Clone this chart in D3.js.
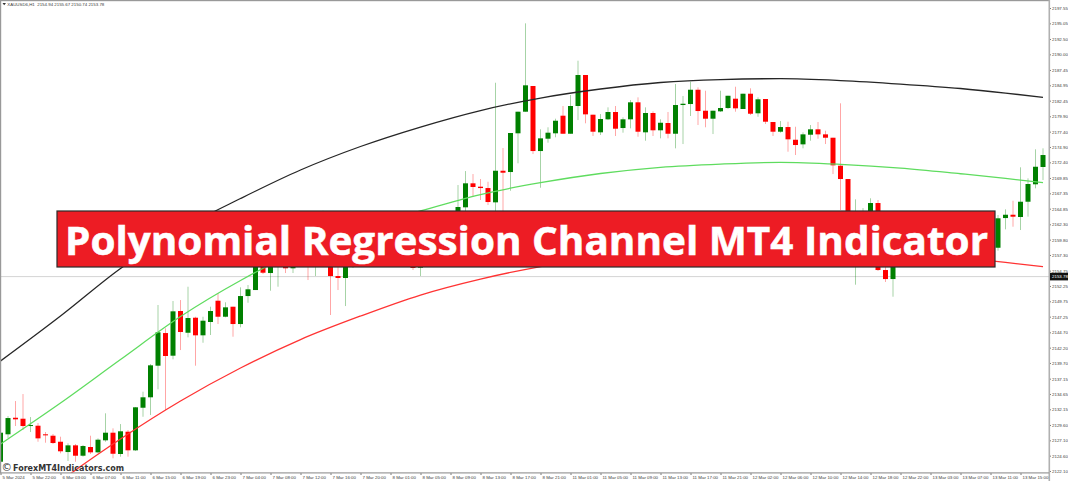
<!DOCTYPE html>
<html>
<head>
<meta charset="utf-8">
<title>Polynomial Regression Channel MT4 Indicator</title>
<script src="https://cdn.jsdelivr.net/npm/d3@7"></script>
<style>
    html, body { margin: 0; padding: 0; background: #fff; overflow: hidden; }
    svg { display: block; }
    .tiny text { font-family: "Liberation Sans", sans-serif; font-size: 4.4px; fill: #3c3c3c; }
</style>
</head>
<body>
<svg id="chart" width="1068" height="481"></svg>
<script>
const opens = [
    2123.61, 2128.08, 2130.78, 2130.62, 2129.43, 2129.48, 2128.08, 2127.85, 2126.87, 2125.19,
    2126.28, 2124.59, 2126.01, 2125.14, 2127.10, 2128.34, 2124.87, 2128.50, 2125.47, 2132.41,
    2134.11, 2139.26, 2144.58, 2140.89, 2148.17, 2144.63, 2147.08, 2144.21, 2146.38, 2149.85,
    2147.24, 2148.87, 2146.05, 2150.61, 2151.59, 2156.81, 2154.36, 2156.15, 2157.30, 2155.13,
    2158.92, 2159.74, 2156.48, 2158.11, 2158.92, 2153.87, 2153.55, 2155.50, 2161.04, 2157.78,
    2160.07, 2157.78, 2159.74, 2161.69, 2158.11, 2158.44, 2155.23, 2158.76, 2161.04, 2160.72,
    2163.00, 2162.18, 2165.07, 2168.98, 2168.43, 2168.21, 2165.88, 2171.03, 2170.82, 2177.13,
    2180.65, 2184.84, 2174.24, 2176.25, 2177.13, 2180.00, 2177.06, 2181.58, 2186.63, 2180.16,
    2177.29, 2179.41, 2180.60, 2177.99, 2179.41, 2182.18, 2177.29, 2180.44, 2177.62, 2178.81,
    2177.06, 2181.74, 2181.90, 2184.23, 2180.81, 2179.51, 2180.71, 2181.25, 2182.77, 2181.09,
    2183.58, 2180.39, 2182.72, 2178.97, 2177.39, 2178.15, 2176.08, 2175.33, 2176.90, 2177.78,
    2176.96, 2176.41, 2171.85, 2169.68, 2158.11, 2158.92, 2161.04, 2165.77, 2154.85, 2153.38,
    2157.30, 2160.39, 2157.78, 2161.04, 2158.76, 2159.74, 2162.02, 2159.09, 2160.39, 2162.35,
    2159.41, 2160.39, 2162.67, 2158.48, 2163.32, 2163.86, 2163.49, 2165.98, 2168.82, 2171.64
];
const highs = [
    2128.78, 2131.06, 2133.50, 2134.64, 2130.89, 2129.92, 2128.45, 2128.13, 2127.69, 2126.61,
    2126.50, 2126.33, 2127.85, 2127.42, 2131.50, 2129.05, 2129.75, 2128.78, 2132.53, 2135.02,
    2139.53, 2149.15, 2145.35, 2149.80, 2149.96, 2152.13, 2147.24, 2147.24, 2148.87, 2151.05,
    2149.59, 2148.87, 2152.03, 2152.41, 2159.09, 2157.78, 2158.11, 2159.74, 2158.92, 2158.76,
    2160.07, 2161.04, 2161.69, 2164.51, 2160.07, 2156.15, 2159.74, 2160.55, 2162.18, 2161.69,
    2161.37, 2162.35, 2162.67, 2163.00, 2161.37, 2160.07, 2160.39, 2162.18, 2162.67, 2163.81,
    2163.98, 2168.70, 2170.98, 2170.49, 2169.68, 2169.24, 2185.37, 2174.73, 2177.18, 2180.65,
    2195.05, 2184.84, 2177.78, 2178.11, 2179.51, 2181.58, 2183.37, 2188.96, 2186.63, 2180.16,
    2180.27, 2181.36, 2181.58, 2179.73, 2182.55, 2182.99, 2181.36, 2180.71, 2179.41, 2180.60,
    2185.16, 2183.21, 2185.54, 2184.62, 2184.07, 2180.81, 2184.07, 2183.25, 2184.72, 2183.58,
    2184.46, 2182.99, 2182.72, 2178.97, 2179.13, 2179.02, 2178.20, 2177.29, 2178.48, 2178.97,
    2177.55, 2176.41, 2182.02, 2169.68, 2166.37, 2164.95, 2166.54, 2166.26, 2158.11, 2159.74,
    2161.04, 2161.69, 2161.37, 2162.67, 2163.00, 2163.32, 2163.00, 2162.67, 2163.65, 2163.65,
    2163.00, 2163.98, 2163.98, 2163.81, 2164.74, 2166.14, 2171.59, 2169.79, 2174.52, 2174.68
];
const lows = [
    2123.56, 2127.47, 2129.43, 2128.78, 2128.45, 2126.87, 2126.71, 2126.50, 2124.98, 2123.73,
    2123.61, 2124.43, 2124.87, 2124.98, 2126.87, 2124.17, 2124.43, 2124.43, 2125.36, 2130.94,
    2131.22, 2135.41, 2132.04, 2140.30, 2141.81, 2143.88, 2139.26, 2143.00, 2144.26, 2146.05,
    2147.14, 2143.98, 2145.51, 2149.52, 2151.59, 2154.20, 2151.48, 2152.13, 2154.36, 2154.36,
    2155.50, 2153.22, 2153.87, 2156.15, 2147.52, 2151.59, 2148.98, 2155.18, 2156.48, 2156.81,
    2156.15, 2156.48, 2158.11, 2157.30, 2156.81, 2154.85, 2153.87, 2157.30, 2157.78, 2159.74,
    2159.41, 2161.04, 2164.30, 2166.75, 2166.26, 2165.44, 2162.18, 2162.18, 2167.77, 2172.24,
    2180.65, 2173.75, 2168.26, 2175.60, 2176.48, 2177.06, 2177.06, 2179.29, 2178.76, 2176.69,
    2176.85, 2179.29, 2176.69, 2177.23, 2177.94, 2176.57, 2175.92, 2176.69, 2176.31, 2176.31,
    2174.68, 2175.38, 2179.95, 2178.48, 2178.11, 2177.01, 2180.60, 2181.09, 2180.65, 2181.09,
    2180.11, 2179.83, 2178.64, 2176.69, 2177.23, 2174.13, 2173.59, 2174.68, 2175.92, 2176.25,
    2175.38, 2170.49, 2164.63, 2160.55, 2152.46, 2157.30, 2159.74, 2154.69, 2152.90, 2150.50,
    2156.15, 2156.81, 2156.48, 2157.46, 2157.13, 2158.11, 2157.78, 2157.46, 2158.76, 2158.11,
    2157.78, 2158.76, 2157.13, 2158.00, 2161.48, 2161.91, 2161.37, 2163.54, 2168.16, 2169.52
];
const closes = [
    2128.34, 2130.73, 2130.52, 2129.43, 2129.59, 2127.42, 2127.91, 2126.66, 2125.31, 2126.28,
    2124.59, 2126.17, 2125.14, 2127.20, 2128.34, 2124.91, 2128.57, 2125.47, 2132.48, 2134.11,
    2139.32, 2144.70, 2140.84, 2148.12, 2144.75, 2147.03, 2144.21, 2146.59, 2148.17, 2147.24,
    2148.77, 2146.05, 2150.61, 2151.71, 2158.11, 2154.41, 2157.30, 2158.11, 2155.13, 2157.78,
    2156.48, 2156.15, 2160.55, 2162.18, 2153.87, 2153.55, 2158.11, 2158.92, 2158.11, 2160.55,
    2157.30, 2161.04, 2161.69, 2158.92, 2160.39, 2155.18, 2158.92, 2161.04, 2159.09, 2162.67,
    2160.55, 2165.12, 2168.98, 2168.38, 2168.21, 2165.93, 2171.03, 2170.71, 2177.18, 2180.65,
    2184.95, 2174.24, 2176.31, 2177.23, 2179.18, 2177.06, 2181.58, 2186.63, 2180.22, 2177.39,
    2179.46, 2180.60, 2177.88, 2179.41, 2182.18, 2177.39, 2180.44, 2177.62, 2178.85, 2177.06,
    2181.74, 2181.95, 2184.23, 2180.76, 2179.51, 2180.81, 2181.25, 2183.25, 2181.20, 2183.58,
    2180.32, 2182.67, 2179.02, 2177.39, 2178.15, 2176.15, 2175.22, 2176.96, 2177.78, 2176.96,
    2176.41, 2171.91, 2169.68, 2162.18, 2162.18, 2162.67, 2165.77, 2154.85, 2153.38, 2158.92,
    2159.74, 2158.11, 2160.07, 2158.76, 2161.37, 2162.02, 2159.09, 2161.69, 2162.35, 2159.74,
    2161.69, 2162.67, 2158.44, 2163.28, 2163.86, 2163.54, 2165.98, 2168.87, 2171.68, 2173.59
];

const channelBars = [0, 8, 16, 24, 32, 40, 48, 56, 64, 72, 80, 88, 96, 104, 112, 120, 128, 134, 139];
const upperBand = [2140.02, 2147.35, 2155.10, 2161.45, 2166.50, 2171.15, 2174.98, 2178.15, 2180.84, 2182.88,
    2184.35, 2185.41, 2185.89, 2186.03, 2185.73, 2185.16, 2184.43, 2183.69, 2182.99];
const middleBand = [2126.50, 2133.18, 2140.27, 2147.27, 2153.14, 2158.11, 2161.53, 2164.47, 2167.15, 2169.08,
    2170.58, 2171.59, 2172.12, 2172.40, 2172.08, 2171.47, 2170.54, 2169.79, 2169.08];
const lowerBand = [2112.81, 2120.47, 2127.31, 2133.50, 2138.88, 2143.52, 2147.35, 2150.78, 2153.38, 2155.42,
    2156.97, 2157.95, 2158.52, 2158.76, 2158.44, 2157.78, 2156.85, 2156.10, 2155.39];

const priceTicks = [2197.55, 2195.05, 2192.50, 2190.00, 2187.45, 2184.95, 2182.45, 2179.90, 2177.40, 2174.90, 2172.40,
    2169.85, 2167.35, 2164.85, 2162.30, 2159.80, 2157.30, 2154.75, 2152.25, 2149.75, 2147.25, 2144.70,
    2142.20, 2139.70, 2137.15, 2134.65, 2132.15, 2129.60, 2127.10, 2124.60, 2122.10];
const timeLabels = ["5 Mar 2024", "5 Mar 22:00", "6 Mar 03:00", "6 Mar 07:00", "6 Mar 11:00", "6 Mar 15:00", "6 Mar 19:00",
    "6 Mar 23:00", "7 Mar 04:00", "7 Mar 08:00", "7 Mar 12:00", "7 Mar 16:00", "7 Mar 20:00", "8 Mar 01:00",
    "8 Mar 05:00", "8 Mar 09:00", "8 Mar 13:00", "8 Mar 17:00", "8 Mar 21:00", "11 Mar 01:00", "11 Mar 05:00",
    "11 Mar 09:00", "11 Mar 13:00", "11 Mar 17:00", "11 Mar 21:00", "12 Mar 02:00", "12 Mar 06:00", "12 Mar 10:00",
    "12 Mar 14:00", "12 Mar 18:00", "12 Mar 22:00", "13 Mar 03:00", "13 Mar 07:00", "13 Mar 11:00", "13 Mar 15:00"];
const lastPrice = 2153.78;
const headerText = "XAUUSD6,H1  2154.94 2155.67 2150.74 2153.78";
const bannerText = "Polynomial Regression Channel MT4 Indicator";
const watermarkText = "ForexMT4Indicators.com";

const width = 1068;
const height = 481;
const plotRight = 1049;
const plotBottom = 473;

const svg = d3.select("#chart");
const x = d3.scaleLinear().domain([0, 139]).range([0.5, 1043]);
const y = d3.scaleLinear().domain([2197.55, 2122.10]).range([8, 471]);

svg.append("clipPath").attr("id", "plot")
    .append("rect")
    .attr("x", 1).attr("y", 1)
    .attr("width", plotRight - 1).attr("height", plotBottom - 1);

const plot = svg.append("g").attr("clip-path", "url(#plot)");

// last price line sits behind everything
plot.append("line")
    .attr("x1", 0).attr("x2", plotRight)
    .attr("y1", y(lastPrice)).attr("y2", y(lastPrice))
    .attr("stroke", "#d4d4d4").attr("stroke-width", 1);

const candles = plot.selectAll(".candle")
    .data(opens.map((o, i) => ({ i, o, h: highs[i], l: lows[i], c: closes[i] })))
    .enter()
    .append("g")
    .attr("class", "candle");

candles.append("line")
    .attr("x1", d => x(d.i)).attr("x2", d => x(d.i))
    .attr("y1", d => y(d.h)).attr("y2", d => y(d.l))
    .attr("stroke", d => d.c >= d.o ? "#008000" : "#ff0000")
    .attr("stroke-opacity", 0.35)
    .attr("stroke-width", 1);

candles.append("rect")
    .attr("x", d => x(d.i) - 2.5)
    .attr("y", d => y(Math.max(d.o, d.c)))
    .attr("width", 5)
    .attr("height", d => Math.max(1, Math.abs(y(d.o) - y(d.c))))
    .attr("fill", d => d.c >= d.o ? "#008000" : "#ff0000");

const bandLine = d3.line()
    .x((d, i) => x(channelBars[i]))
    .y(d => y(d))
    .curve(d3.curveMonotoneX);

plot.append("path").datum(upperBand)
    .attr("fill", "none").attr("stroke", "#262626").attr("stroke-width", 1.3).attr("d", bandLine);
plot.append("path").datum(middleBand)
    .attr("fill", "none").attr("stroke", "#5fdc5f").attr("stroke-width", 1.3).attr("d", bandLine);
plot.append("path").datum(lowerBand)
    .attr("fill", "none").attr("stroke", "#ff3333").attr("stroke-width", 1.3).attr("d", bandLine);

// chart frame
svg.append("rect").attr("x", 0).attr("y", 0).attr("width", plotRight).attr("height", 1.2).attr("fill", "#999");
svg.append("rect").attr("x", 0).attr("y", 0).attr("width", 1.2).attr("height", plotBottom).attr("fill", "#999");

const priceAxis = svg.append("g")
    .attr("class", "tiny")
    .attr("transform", `translate(${plotRight},0)`)
    .call(d3.axisRight(y).tickValues(priceTicks).tickFormat(d3.format(".2f")).tickSize(2).tickPadding(1));
priceAxis.select(".domain").remove();
priceAxis.selectAll(".tick line").attr("stroke", "#777");
priceAxis.selectAll(".tick text").attr("dy", "0.32em");

svg.append("rect").attr("x", plotRight - 0.5).attr("y", 0)
    .attr("width", 1.6).attr("height", height).attr("fill", "#b0b0b0");

const timeAxis = svg.append("g")
    .attr("class", "tiny")
    .attr("transform", `translate(0,${plotBottom})`)
    .call(d3.axisBottom(x)
        .tickValues(timeLabels.map((d, i) => i * 4))
        .tickFormat((d, i) => timeLabels[i])
        .tickSize(2)
        .tickPadding(1));
timeAxis.select(".domain").remove();
timeAxis.selectAll(".tick line").attr("stroke", "#777");
timeAxis.selectAll(".tick text")
    .attr("text-anchor", "start")
    .attr("x", 1.5)
    .attr("y", 3.2);

svg.append("rect").attr("x", 0).attr("y", plotBottom - 0.7)
    .attr("width", plotRight).attr("height", 1.2).attr("fill", "#999");

// last price tag on the price axis
svg.append("rect").attr("x", plotRight + 1).attr("y", y(lastPrice) - 3.8)
    .attr("width", width - plotRight - 1).attr("height", 7.6).attr("fill", "#111");
svg.append("text")
    .attr("x", plotRight + 3).attr("y", y(lastPrice) + 1.6)
    .attr("font-family", "Liberation Sans, sans-serif").attr("font-size", 4.4).attr("fill", "#fff")
    .text(d3.format(".2f")(lastPrice));

// symbol header
svg.append("path").attr("d", "M2.5 3 L6 3 L4.2 5.2 Z").attr("fill", "#333");
svg.append("text")
    .attr("x", 7.3).attr("y", 5.8)
    .attr("xml:space", "preserve")
    .attr("font-family", "Liberation Sans, sans-serif").attr("font-size", 4.4).attr("fill", "#3c3c3c")
    .attr("textLength", 97)
    .text(headerText);

// title banner
svg.append("rect")
    .attr("x", 57).attr("y", 211).attr("width", 938).attr("height", 56)
    .attr("fill", "#ed1c24").attr("stroke", "#2a2a2a").attr("stroke-width", 1.2);
svg.append("text")
    .attr("x", 65).attr("y", 255)
    .attr("font-family", "Open Sans, sans-serif").attr("font-weight", 700).attr("font-size", 38.5)
    .attr("fill", "#fff").attr("stroke", "#fff").attr("stroke-width", 0.5)
    .attr("textLength", 923).attr("lengthAdjust", "spacingAndGlyphs")
    .text(bannerText);

// watermark
const mark = svg.append("g").attr("font-family", "DejaVu Sans, sans-serif").attr("fill", "#333");
mark.append("text")
    .attr("x", 1.5).attr("y", 471)
    .attr("font-size", 10.5)
    .text("\u00a9");
mark.append("text")
    .attr("x", 13).attr("y", 471)
    .attr("font-size", 9).attr("font-weight", 700)
    .attr("textLength", 111).attr("lengthAdjust", "spacingAndGlyphs")
    .text(watermarkText);
</script>
</body>
</html>
